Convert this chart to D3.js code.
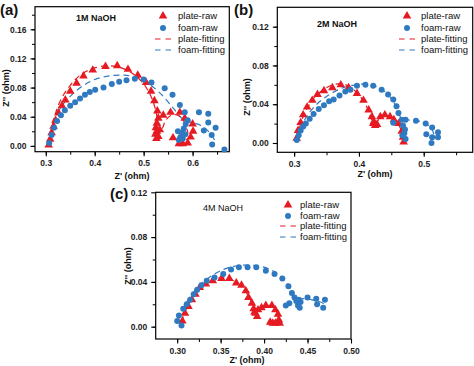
<!DOCTYPE html>
<html><head><meta charset="utf-8">
<script src="https://cdn.jsdelivr.net/npm/d3@7"></script>
<style>
html,body{margin:0;padding:0;background:#fff;}
svg{display:block;font-family:"Liberation Sans",Arial,sans-serif;}
</style></head>
<body><svg id="c" width="474" height="366"></svg>
<script>
// ---------------- DATA ----------------
const seriesNames = ["plate-raw","foam-raw","plate-fitting","foam-fitting"];
const panelTitles = ["1M NaOH","2M NaOH","4M NaOH"];
const panelLetters = ["(a)","(b)","(c)"];

const xTicksA = [0.3,0.4,0.5,0.6], yTicksA = [0.00,0.04,0.08,0.12,0.16];
const xTicksB = [0.3,0.4,0.5],     yTicksB = [0.00,0.04,0.08,0.12];
const xTicksC = [0.30,0.35,0.40,0.45,0.50], yTicksC = [0.00,0.04,0.08,0.12];

const plateRawA = [[0.306,0.001],[0.309,0.009],[0.312,0.018],[0.316,0.027],[0.320,0.035],[0.326,0.045],[0.333,0.055],[0.340,0.063],[0.350,0.075],[0.363,0.086],[0.377,0.096],[0.396,0.104],[0.422,0.109],[0.446,0.110],[0.468,0.105],[0.488,0.097],[0.505,0.087],[0.515,0.075],[0.522,0.062],[0.528,0.048],[0.530,0.038],[0.527,0.031],[0.525,0.025],[0.527,0.020],[0.524,0.016],[0.530,0.013],[0.526,0.010],[0.533,0.022],[0.540,0.042],[0.555,0.046],[0.574,0.046],[0.584,0.038],[0.600,0.030],[0.601,0.020],[0.596,0.012],[0.590,0.004],[0.580,0.003],[0.572,0.003],[0.560,0.011],[0.576,0.010]];
const foamRawA = [[0.307,0.004],[0.312,0.015],[0.317,0.025],[0.323,0.034],[0.331,0.042],[0.339,0.049],[0.350,0.055],[0.360,0.060],[0.370,0.065],[0.380,0.070],[0.390,0.074],[0.401,0.077],[0.418,0.080],[0.435,0.085],[0.450,0.088],[0.465,0.090],[0.482,0.092],[0.500,0.091],[0.516,0.087],[0.543,0.079],[0.559,0.070],[0.574,0.056],[0.584,0.046],[0.590,0.035],[0.586,0.030],[0.582,0.024],[0.578,0.018],[0.575,0.012],[0.572,0.008],[0.580,0.010],[0.585,0.016],[0.570,0.020],[0.613,0.046],[0.632,0.044],[0.632,0.032],[0.647,0.025],[0.623,0.021],[0.639,0.015],[0.640,0.002],[0.665,-0.005]];
const plateFitA = [[0.306,0.003],[0.312,0.025],[0.320,0.045],[0.332,0.065],[0.350,0.083],[0.372,0.098],[0.400,0.107],[0.430,0.110],[0.455,0.107],[0.480,0.098],[0.500,0.085],[0.515,0.068],[0.525,0.048],[0.530,0.030],[0.536,0.022],[0.546,0.036],[0.560,0.043],[0.575,0.040],[0.585,0.030],[0.590,0.018],[0.588,0.008]];
const foamFitA = [[0.306,0.006],[0.315,0.030],[0.330,0.052],[0.350,0.068],[0.375,0.082],[0.400,0.091],[0.430,0.096],[0.460,0.097],[0.490,0.093],[0.515,0.083],[0.540,0.068],[0.560,0.052],[0.575,0.040],[0.585,0.034],[0.600,0.032],[0.620,0.027],[0.635,0.018],[0.645,0.008]];

const plateRawB = [[0.304,0.005],[0.306,0.013],[0.310,0.021],[0.314,0.029],[0.320,0.037],[0.328,0.044],[0.336,0.050],[0.346,0.054],[0.359,0.057],[0.372,0.060],[0.384,0.057],[0.397,0.051],[0.407,0.044],[0.415,0.034],[0.420,0.027],[0.422,0.020],[0.425,0.018],[0.423,0.022],[0.428,0.019],[0.433,0.027],[0.440,0.029],[0.448,0.027],[0.454,0.024],[0.461,0.020],[0.466,0.012],[0.468,0.006],[0.469,0.001]];
const foamRawB = [[0.304,0.003],[0.307,0.008],[0.310,0.013],[0.314,0.017],[0.318,0.020],[0.324,0.025],[0.330,0.030],[0.338,0.035],[0.346,0.039],[0.354,0.043],[0.361,0.045],[0.370,0.049],[0.379,0.053],[0.387,0.055],[0.397,0.059],[0.410,0.060],[0.422,0.059],[0.435,0.055],[0.445,0.050],[0.453,0.045],[0.458,0.038],[0.461,0.031],[0.466,0.024],[0.472,0.024],[0.468,0.018],[0.471,0.014],[0.470,0.010],[0.467,0.008],[0.472,0.004],[0.453,0.021],[0.488,0.023],[0.503,0.020],[0.513,0.016],[0.504,0.009],[0.513,0.006],[0.522,0.011],[0.522,0.006],[0.512,0.000]];
const plateFitB = [[0.305,0.005],[0.310,0.020],[0.318,0.033],[0.330,0.046],[0.345,0.055],[0.360,0.060],[0.375,0.061],[0.390,0.056],[0.403,0.047],[0.413,0.036],[0.420,0.024],[0.425,0.020],[0.432,0.025],[0.442,0.028],[0.452,0.026],[0.460,0.020],[0.466,0.012],[0.468,0.004]];
const foamFitB = [[0.305,0.004],[0.312,0.018],[0.322,0.030],[0.335,0.040],[0.350,0.048],[0.365,0.054],[0.380,0.058],[0.395,0.060],[0.410,0.061],[0.425,0.059],[0.440,0.053],[0.452,0.044],[0.460,0.034],[0.465,0.026],[0.475,0.024],[0.490,0.023],[0.503,0.020],[0.512,0.015],[0.516,0.008]];

const plateRawC = [[0.306,0.005],[0.309,0.012],[0.313,0.018],[0.317,0.024],[0.321,0.029],[0.326,0.035],[0.333,0.038],[0.341,0.041],[0.351,0.043],[0.360,0.043],[0.368,0.039],[0.374,0.037],[0.379,0.032],[0.382,0.026],[0.386,0.021],[0.388,0.016],[0.390,0.012],[0.392,0.009],[0.389,0.013],[0.393,0.015],[0.397,0.017],[0.402,0.019],[0.409,0.019],[0.413,0.015],[0.416,0.011],[0.417,0.006],[0.416,0.004],[0.413,0.003],[0.410,0.003],[0.407,0.004],[0.418,0.003]];
const foamRawC = [[0.300,0.005],[0.305,0.001],[0.302,0.010],[0.307,0.016],[0.311,0.020],[0.315,0.024],[0.319,0.029],[0.323,0.033],[0.328,0.037],[0.334,0.041],[0.343,0.044],[0.353,0.047],[0.362,0.051],[0.371,0.053],[0.381,0.053],[0.391,0.053],[0.402,0.050],[0.412,0.047],[0.421,0.043],[0.428,0.036],[0.432,0.030],[0.435,0.026],[0.437,0.023],[0.440,0.024],[0.442,0.022],[0.439,0.019],[0.441,0.017],[0.425,0.019],[0.429,0.021],[0.450,0.026],[0.460,0.025],[0.461,0.020],[0.470,0.024],[0.468,0.017]];
const plateFitC = [[0.305,0.004],[0.310,0.015],[0.318,0.026],[0.328,0.035],[0.340,0.041],[0.352,0.044],[0.362,0.042],[0.372,0.037],[0.380,0.030],[0.386,0.021],[0.390,0.013],[0.395,0.016],[0.403,0.019],[0.410,0.018],[0.415,0.012],[0.417,0.004]];
const foamFitC = [[0.301,0.006],[0.308,0.018],[0.318,0.030],[0.330,0.040],[0.345,0.048],[0.360,0.053],[0.378,0.055],[0.395,0.054],[0.410,0.050],[0.422,0.043],[0.430,0.034],[0.435,0.026],[0.445,0.025],[0.455,0.024],[0.465,0.022],[0.472,0.019]];

// ---------------- LAYOUT ----------------
const RED = "#e51a22", BLUE = "#2f79c1";
const FONT = "'Liberation Sans', Arial, sans-serif";
const panels = [
  {box:[35,229.3,6.7,151.7], xd:[0.278,0.675], yd:[-0.008,0.191], xt:xTicksA, yt:yTicksA, xMinorStep:0.05, yMinorStep:0.02, xFmt:d3.format(".1f"),
   data:[plateRawA,foamRawA,plateFitA,foamFitA], letter:[0,15], title:[76,21,"bold"], leg:{mx:163,tx:178,rows:[16,28,39,50]},
   ylab:[9,88], xlab:[132,179]},
  {box:[277.3,472.7,7.3,152.3], xd:[0.274,0.5756], yd:[-0.0096,0.14], xt:xTicksB, yt:yTicksB, xMinorStep:0.05, yMinorStep:0.02, xFmt:d3.format(".1f"),
   data:[plateRawB,foamRawB,plateFitB,foamFitB], letter:[234,15], title:[317,27,"bold"], leg:{mx:407,tx:421,rows:[16,28,39,50]},
   ylab:[250,97], xlab:[375,177]},
  {box:[155.7,351,192.3,339], xd:[0.2753,0.50], yd:[-0.011,0.12], xt:xTicksC, yt:yTicksC, xMinorStep:0.025, yMinorStep:0.02, xFmt:d3.format(".2f"),
   data:[plateRawC,foamRawC,plateFitC,foamFitC], letter:[110,199], title:[203,211,"normal"], leg:{mx:288,tx:300,rows:[205,216,226,237]},
   ylab:[131,266], xlab:[247,363]}
];

const svg = d3.select("#c");

panels.forEach((p,i)=>{
  const [L,R,T,B] = p.box;
  const x = d3.scaleLinear().domain(p.xd).range([L,R]);
  const y = d3.scaleLinear().domain(p.yd).range([B,T]);
  const g = svg.append("g");

  // minor ticks
  const xm = d3.range(Math.ceil(p.xd[0]/p.xMinorStep - 1e-9)*p.xMinorStep, p.xd[1]+1e-9, p.xMinorStep);
  const ym = d3.range(Math.ceil(p.yd[0]/p.yMinorStep - 1e-9)*p.yMinorStep, p.yd[1]+1e-9, p.yMinorStep);
  g.append("g").attr("transform",`translate(0,${B})`)
    .call(d3.axisBottom(x).tickValues(xm.filter(v=>v>p.xd[0]+1e-4 && v<p.xd[1]-1e-4)).tickSize(3).tickFormat(""))
    .call(a=>{a.select(".domain").remove(); a.selectAll("line").attr("stroke","#000").attr("stroke-width",1);});
  g.append("g").attr("transform",`translate(${L},0)`)
    .call(d3.axisLeft(y).tickValues(ym.filter(v=>v>p.yd[0]+1e-4 && v<p.yd[1]-1e-4)).tickSize(3).tickFormat(""))
    .call(a=>{a.select(".domain").remove(); a.selectAll("line").attr("stroke","#000").attr("stroke-width",1);});

  // major ticks
  g.append("g").attr("transform",`translate(0,${B})`)
    .call(d3.axisBottom(x).tickValues(p.xt).tickSize(4.5).tickPadding(4).tickFormat(p.xFmt))
    .call(a=>{a.select(".domain").remove(); a.selectAll("line").attr("stroke","#000").attr("stroke-width",1.1);
      a.selectAll("text").attr("font-family",FONT).attr("font-size",8.5).attr("font-weight","bold").attr("fill","#222");});
  g.append("g").attr("transform",`translate(${L},0)`)
    .call(d3.axisLeft(y).tickValues(p.yt).tickSize(4.5).tickPadding(4).tickFormat(d3.format(".2f")))
    .call(a=>{a.select(".domain").remove(); a.selectAll("line").attr("stroke","#000").attr("stroke-width",1.1);
      a.selectAll("text").attr("font-family",FONT).attr("font-size",8.5).attr("font-weight","bold").attr("fill","#222");});

  // frame
  g.append("rect").attr("x",L).attr("y",T).attr("width",R-L).attr("height",B-T)
    .attr("fill","none").attr("stroke","#000").attr("stroke-width",1.2);

  // fitted lines
  const line = d3.line().x(d=>x(d[0])).y(d=>y(d[1])).curve(d3.curveCatmullRom.alpha(0.5));
  const [pr,fr,pf,ff] = p.data;
  g.append("path").attr("d",line(ff)).attr("fill","none").attr("stroke",BLUE).attr("stroke-width",1.2).attr("stroke-dasharray","6,4");
  g.append("path").attr("d",line(pf)).attr("fill","none").attr("stroke",RED).attr("stroke-width",1.2).attr("stroke-dasharray","6,4");

  // raw markers
  const tri = d3.symbol().type(d3.symbolTriangle).size(32);
  g.append("g").selectAll("path").data(pr).join("path")
    .attr("d",tri).attr("transform",d=>`translate(${x(d[0])},${y(d[1])})`).attr("fill",RED);
  g.append("g").selectAll("circle").data(fr).join("circle")
    .attr("cx",d=>x(d[0])).attr("cy",d=>y(d[1])).attr("r",3).attr("fill",BLUE);

  // legend
  const lg = p.leg;
  g.append("path").attr("d",tri).attr("transform",`translate(${lg.mx},${lg.rows[0]})`).attr("fill",RED);
  g.append("circle").attr("cx",lg.mx).attr("cy",lg.rows[1]).attr("r",3).attr("fill",BLUE);
  [[RED,2],[BLUE,3]].forEach(([c,r])=>{
    g.append("line").attr("x1",lg.mx-8).attr("x2",lg.mx+8).attr("y1",lg.rows[r]).attr("y2",lg.rows[r])
      .attr("stroke",c).attr("stroke-width",1.2).attr("stroke-dasharray","5.5,5");
  });
  seriesNames.forEach((s,k)=>{
    g.append("text").attr("x",lg.tx).attr("y",lg.rows[k]+3.3).text(s)
      .attr("font-family",FONT).attr("font-size",9.5).attr("fill","#111");
  });

  // panel title
  g.append("text").attr("x",p.title[0]).attr("y",p.title[1]).text(panelTitles[i])
    .attr("font-family",FONT).attr("font-size",9).attr("font-weight",p.title[2]).attr("fill","#111");
  // letter
  g.append("text").attr("x",p.letter[0]).attr("y",p.letter[1]).text(panelLetters[i])
    .attr("font-family",FONT).attr("font-size",15).attr("font-weight","bold").attr("fill","#111");
  // axis titles
  g.append("text").attr("transform",`translate(${p.ylab[0]},${p.ylab[1]}) rotate(-90)`).attr("text-anchor","middle")
    .text("Z'' (ohm)").attr("font-family",FONT).attr("font-size",9).attr("font-weight","bold").attr("fill","#111");
  g.append("text").attr("x",p.xlab[0]).attr("y",p.xlab[1]).attr("text-anchor","middle")
    .text("Z' (ohm)").attr("font-family",FONT).attr("font-size",9).attr("font-weight","bold").attr("fill","#111");
});
</script></body></html>
